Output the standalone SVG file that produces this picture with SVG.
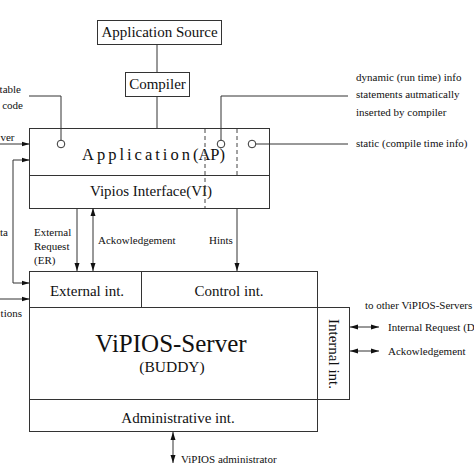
<svg xmlns="http://www.w3.org/2000/svg" width="474" height="474" viewBox="0 0 474 474">
<style>
.box{fill:#fff;stroke:#333;stroke-width:1}
.ln{fill:none;stroke:#333;stroke-width:1}
.dash{fill:none;stroke:#444;stroke-width:1;stroke-dasharray:4,3}
.ar{fill:none;stroke:#333;stroke-width:1;marker-end:url(#ah)}
.ar2{fill:none;stroke:#333;stroke-width:1;marker-end:url(#ah);marker-start:url(#ah)}
text{font-family:"Liberation Serif","Times New Roman",serif;fill:#111}
.s{font-size:11px}
.m{font-size:15px}
.c{text-anchor:middle}
.e{text-anchor:end}
</style>
<defs>
<marker id="ah" viewBox="0 0 8 6" refX="8" refY="3" markerWidth="8" markerHeight="6" markerUnits="userSpaceOnUse" orient="auto-start-reverse">
<path d="M0,0.5 L8,3 L0,5.5 Z" fill="#111"/>
</marker>
</defs>

<g id="source">
<rect class="box" x="97.5" y="20.5" width="124" height="24"/>
<text class="m c" x="159.5" y="37">Application Source</text>
</g>
<g id="compiler">
<rect class="box" x="125.5" y="72.5" width="64" height="24"/>
<text class="m c" x="157.5" y="89">Compiler</text>
</g>
<g id="application">
<rect class="box" x="29.5" y="128.5" width="240" height="47"/>
<text x="82" y="160" style="font-size:16.5px"><tspan letter-spacing="3">Application</tspan><tspan letter-spacing="0">(AP)</tspan></text>
</g>
<g id="vi">
<rect class="box" x="29.5" y="175.5" width="240" height="33"/>
<text class="m c" x="151" y="196">Vipios Interface(VI)</text>
</g>
<g id="external">
<rect class="box" x="29.5" y="271.5" width="112" height="36"/>
<text class="m c" x="87" y="296">External int.</text>
</g>
<g id="control">
<rect class="box" x="141.5" y="271.5" width="176" height="36"/>
<text class="m c" x="229" y="296">Control int.</text>
</g>
<g id="server">
<rect class="box" x="29.5" y="307.5" width="288" height="92"/>
<text class="c" x="171" y="352" style="font-size:25px">ViPIOS-Server</text>
<text class="c" x="172" y="372" style="font-size:15.5px">(BUDDY)</text>
</g>
<g id="internal">
<rect class="box" x="317.5" y="307.5" width="32" height="92"/>
<text class="m c" transform="translate(329,354) rotate(90)">Internal int.</text>
</g>
<g id="admin">
<rect class="box" x="29.5" y="399.5" width="288" height="32"/>
<text class="m c" x="178" y="423">Administrative int.</text>
</g>

<g id="connectors">
<path class="ln" d="M157,44 V72"/>
<path class="ln" d="M157,96 V128"/>
<path class="ln" d="M29,96 H61 V140"/>
<path class="ln" d="M348,96 H221 V140"/>
<path class="ln" d="M256,144 H348"/>
<circle class="ln" cx="61" cy="144" r="3.8"/>
<circle class="ln" cx="221" cy="144" r="3.8"/>
<circle class="ln" cx="252" cy="144" r="3.8"/>
<path class="dash" d="M205,129 V208"/>
<path class="dash" d="M237,129 V175"/>
<path class="ar" d="M0,144 H29.5"/>
<path class="ar2" d="M29.5,160 H13 V283 H29.5"/>
<path class="ar" d="M0,299 H29.5"/>
<path class="ar" d="M77,208 V271"/>
<path class="ar2" d="M93,208 V271"/>
<path class="ar" d="M237,208 V271"/>
<path class="ar2" d="M350,327 H379"/>
<path class="ar2" d="M350,351 H379"/>
<path class="ar2" d="M173,432 V463"/>
</g>

<g id="labels">
<text class="s e" x="21" y="93">table</text>
<text class="s e" x="23" y="109">code</text>
<text class="s e" x="14.5" y="141">ver</text>
<text class="s e" x="8" y="236">ta</text>
<text class="s e" x="22" y="317">tions</text>
<text class="s" x="356" y="81">dynamic (run time) info</text>
<text class="s" x="356" y="98">statements autmatically</text>
<text class="s" x="356" y="116">inserted by compiler</text>
<text class="s" x="356" y="147">static (compile time info)</text>
<text class="s" x="34" y="236">External</text>
<text class="s" x="34" y="250">Request</text>
<text class="s" x="34" y="264">(ER)</text>
<text class="s" x="98" y="244">Ackowledgement</text>
<text class="s" x="209" y="244">Hints</text>
<text class="s" x="365" y="309">to other ViPIOS-Servers</text>
<text class="s" x="388" y="331">Internal Request (D</text>
<text class="s" x="388" y="355">Ackowledgement</text>
<text class="s" x="181" y="463">ViPIOS administrator</text>
</g>
</svg>
